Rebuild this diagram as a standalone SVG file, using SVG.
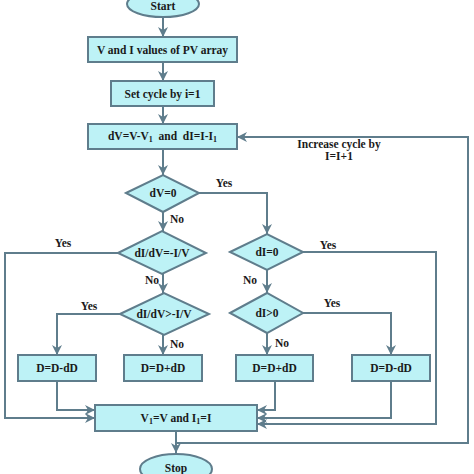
<svg xmlns="http://www.w3.org/2000/svg" width="474" height="474" viewBox="0 0 474 474">
<defs>
<marker id="ah" markerUnits="userSpaceOnUse" markerWidth="11" markerHeight="11" refX="10" refY="5" orient="auto">
<path d="M0,0 L10,5 L0,10 L3,5 z" fill="#5f7d8c"/>
</marker>
<style>
.n{fill:#bdf2f6;stroke:#5f7d8c;stroke-width:2}
.c{fill:none;stroke:#5f7d8c;stroke-width:2;marker-end:url(#ah)}
.p{fill:none;stroke:#5f7d8c;stroke-width:2}
text{font-family:"Liberation Serif","Times New Roman",serif;font-weight:bold;font-size:11.5px;fill:#1a1a1a}
.m{text-anchor:middle}
</style>
</defs>
<rect width="474" height="474" fill="#ffffff"/>
<g id="connectors">
<path class="c" d="M163,17 V37"/>
<path class="c" d="M163,62 V81"/>
<path class="c" d="M163,106 V124"/>
<path class="c" d="M163,149 V175"/>
<path class="c" d="M199,193 H267 V234"/>
<path class="c" d="M163,212 V231"/>
<path class="c" d="M118,253 H5 V418 H95"/>
<path class="c" d="M163,273 V293"/>
<path class="c" d="M120,314 H57 V355"/>
<path class="c" d="M163,335 V355"/>
<path class="c" d="M303,252 H436 V424 H257"/>
<path class="c" d="M267,270 V293"/>
<path class="c" d="M303,313 H391 V355"/>
<path class="c" d="M267,333 V355"/>
<path class="c" d="M57,381 V410 H95"/>
<path class="c" d="M275,381 V410 H257"/>
<path class="c" d="M391,381 V418 H257"/>
<path class="c" d="M176,431 V453"/>
<path class="c" d="M176,443 H468 V137 H237"/>
<text x="224" y="187" class="m">Yes</text>
<text x="170" y="223">No</text>
<text x="63" y="247" class="m">Yes</text>
<text x="152" y="284" class="m">No</text>
<text x="89" y="310" class="m">Yes</text>
<text x="170" y="348">No</text>
<text x="328" y="249" class="m">Yes</text>
<text x="250" y="284" class="m">No</text>
<text x="332" y="307" class="m">Yes</text>
<text x="275" y="347">No</text>
<text x="339" y="148" class="m">Increase cycle by</text>
<text x="339" y="160" class="m">I=I+1</text>
</g>
<g id="start"><ellipse class="n" cx="163" cy="4" rx="36" ry="13"/><text x="163" y="10" class="m">Start</text></g>
<g id="read"><rect class="n" x="88" y="37" width="149" height="25"/><text x="162.5" y="54" class="m">V and I values of PV array</text></g>
<g id="setcycle"><rect class="n" x="111" y="81" width="103" height="25"/><text x="162.5" y="98" class="m">Set cycle by i=1</text></g>
<g id="calc"><rect class="n" x="88" y="124" width="149" height="25"/><text x="162.5" y="140" class="m" xml:space="preserve">dV=V-V<tspan font-size="8" dy="2">1</tspan><tspan dy="-2">  and  dI=I-I</tspan><tspan font-size="8" dy="2">1</tspan></text></g>
<g id="dv0"><polygon class="n" points="126,193 163,175 199,193 163,212"/><text x="163" y="197" class="m">dV=0</text></g>
<g id="cond1"><polygon class="n" points="118,253 162,231 206,253 162,274"/><text x="162" y="257" class="m">dI/dV=-I/V</text></g>
<g id="cond2"><polygon class="n" points="120,314 164,293 209,314 164,335"/><text x="164" y="318" class="m">dI/dV&gt;-I/V</text></g>
<g id="di0"><polygon class="n" points="230,252 267,234 303,252 267,270"/><text x="267" y="256" class="m">dI=0</text></g>
<g id="dipos"><polygon class="n" points="230,313 267,293 303,313 267,333"/><text x="267" y="317" class="m">dI&gt;0</text></g>
<g id="dec1"><rect class="n" x="18" y="355" width="78" height="26"/><text x="57" y="372" class="m">D=D-dD</text></g>
<g id="inc1"><rect class="n" x="124" y="355" width="78" height="26"/><text x="163" y="372" class="m">D=D+dD</text></g>
<g id="inc2"><rect class="n" x="236" y="355" width="77" height="26"/><text x="274.5" y="372" class="m">D=D+dD</text></g>
<g id="dec2"><rect class="n" x="352" y="355" width="78" height="26"/><text x="391" y="372" class="m">D=D-dD</text></g>
<g id="update"><rect class="n" x="95" y="405" width="162" height="26"/><text x="176" y="422" class="m">V<tspan font-size="8" dy="2">1</tspan><tspan dy="-2">=V and I</tspan><tspan font-size="8" dy="2">1</tspan><tspan dy="-2">=I</tspan></text></g>
<g id="stop"><ellipse class="n" cx="176" cy="469" rx="36" ry="15"/><text x="176" y="472" class="m">Stop</text></g>
</svg>
